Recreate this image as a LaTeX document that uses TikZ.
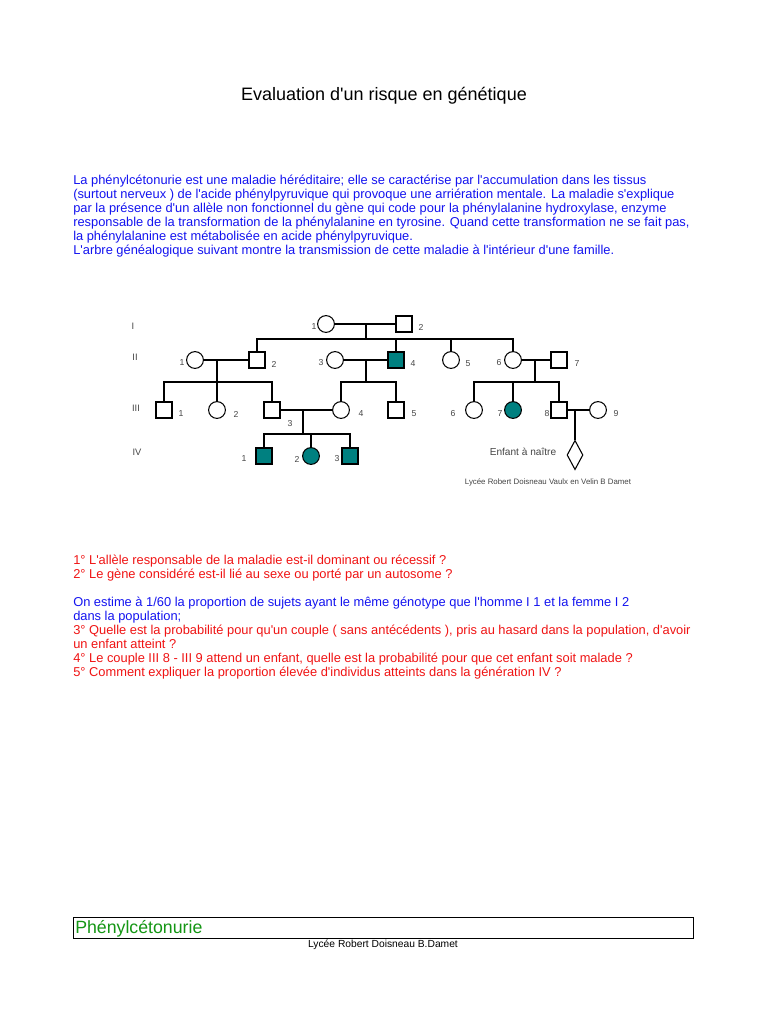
\documentclass[tikz,border=0pt]{standalone}
\usepackage{fontspec}
\setmainfont{Liberation Sans}[Ligatures=TeXOff]
\usetikzlibrary{shapes.geometric}
\definecolor{teal1}{RGB}{0,128,128}
\definecolor{txtblue}{RGB}{20,20,240}
\definecolor{txtred}{RGB}{240,20,20}
\definecolor{txtgreen}{RGB}{20,150,20}
\definecolor{lbl}{RGB}{70,70,70}
\begin{document}
\begin{tikzpicture}[x=0.75pt,y=-0.75pt,
  male/.style={draw=black,line width=0.8pt,fill=white,minimum size=12pt,inner sep=0pt,rectangle},
  female/.style={draw=black,line width=0.8pt,fill=white,minimum size=12.6pt,inner sep=0pt,circle},
  aff/.style={fill=teal1},
  unk/.style={draw=black,line width=0.8pt,fill=white,diamond,minimum width=12pt,minimum height=22pt,inner sep=0pt,aspect=0.5},
  num/.style={font=\fontsize{6.5}{7}\selectfont,text=lbl,inner sep=0pt},
  gen/.style={font=\fontsize{7}{7}\selectfont,text=lbl,inner sep=0pt},
  ln/.style={line width=0.8pt,draw=black},
  para/.style={anchor=base west,inner sep=0pt,font=\fontsize{9.65}{10}\selectfont},
]
\useasboundingbox (0,0) rectangle (768,1024);
\fill[white] (0,0) rectangle (768,1024);

\node[inner sep=0pt,font=\fontsize{13.5}{15}\selectfont] (title) at (384,96) {Evaluation d'un risque en génétique};

\node[para,text=txtblue] (p1) at (73,184) {La phénylcétonurie est une maladie héréditaire; elle se caractérise par l'accumulation dans les tissus};
\node[para,text=txtblue] (p2) at (73,198) {(surtout nerveux ) de l'acide phénylpyruvique qui provoque une arriération mentale. La maladie s'explique};
\node[para,text=txtblue] (p3) at (73,212) {par la présence d'un allèle non fonctionnel du gène qui code pour la phénylalanine hydroxylase, enzyme};
\node[para,text=txtblue] (p4) at (73,226) {responsable de la transformation de la phénylalanine en tyrosine. Quand cette transformation ne se fait pas,};
\node[para,text=txtblue] (p5) at (73,240) {la phénylalanine est métabolisée en acide phénylpyruvique.};
\node[para,text=txtblue] (p6) at (73,254) {L'arbre généalogique suivant montre la transmission de cette maladie à l'intérieur d'une famille.};

% generation labels
\node[gen] (gI) at (133,326) {I};
\node[gen] (gII) at (135,357) {II};
\node[gen] (gIII) at (136,408) {III};
\node[gen] (gIV) at (137,452) {IV};

% Gen I
\node[female] (I1) at (326,324) {};
\node[male] (I2) at (404,324) {};
\node[num] at (314,327) {1};
\node[num] at (421,327) {2};
% Gen II
\node[female] (II1) at (195,360) {};
\node[male] (II2) at (257,360) {};
\node[female] (II3) at (335,360) {};
\node[male,aff] (II4) at (396,360) {};
\node[female] (II5) at (451,360) {};
\node[female] (II6) at (513,360) {};
\node[male] (II7) at (559,360) {};
\node[num] at (182,363) {1};
\node[num] at (274,364) {2};
\node[num] at (321,363) {3};
\node[num] at (413,364) {4};
\node[num] at (468,364) {5};
\node[num] at (499,363) {6};
\node[num] at (577,364) {7};
% Gen III
\node[male] (III1) at (164,410) {};
\node[female] (III2) at (217,410) {};
\node[male] (III3) at (272,410) {};
\node[female] (III4) at (341,410) {};
\node[male] (III5) at (396,410) {};
\node[female] (III6) at (474,410) {};
\node[female,aff] (III7) at (513,410) {};
\node[male] (III8) at (559,410) {};
\node[female] (III9) at (598,410) {};
\node[num] at (181,414) {1};
\node[num] at (236,414) {2};
\node[num] at (290,424) {3};
\node[num] at (361,414) {4};
\node[num] at (414,414) {5};
\node[num] at (453,414) {6};
\node[num] at (500,414) {7};
\node[num] at (547,414) {8};
\node[num] at (616,414) {9};
% Gen IV
\node[male,aff] (IV1) at (264,456) {};
\node[female,aff] (IV2) at (311,456) {};
\node[male,aff] (IV3) at (350,456) {};
\node[num] at (244,459) {1};
\node[num] at (297,459) {2};
\node[num] at (337,459) {3};
\node[unk] (V) at (575,455) {};
\node[inner sep=0pt,font=\fontsize{7.6}{8}\selectfont,text=lbl] (enf) at (523,452) {Enfant à naître};
\node[inner sep=0pt,font=\fontsize{5.9}{6}\selectfont,text=lbl] (lyc1) at (548,482) {Lycée Robert Doisneau Vaulx en Velin B Damet};

% connectors
\coordinate (mI) at (366,324);
\coordinate (sI) at (366,339);
\draw[ln] (I1) -- (I2);
\draw[ln] (mI) -- (sI);
\draw[ln] (II2.north) |- (II6.north |- sI) -- (II6.north);
\draw[ln] (II4.north) -- (II4.north |- sI);
\draw[ln] (II5.north) -- (II5.north |- sI);

\coordinate (mII12) at (217,360);
\coordinate (sII12) at (217,382);
\draw[ln] (II1) -- (II2);
\draw[ln] (mII12) -- (III2.north);
\draw[ln] (III1.north) |- (III3.north |- sII12) -- (III3.north);

\coordinate (mII34) at (366,360);
\coordinate (sII34) at (366,382);
\draw[ln] (II3) -- (II4);
\draw[ln] (mII34) -- (sII34);
\draw[ln] (III4.north) |- (III5.north |- sII34) -- (III5.north);

\coordinate (mII67) at (535,360);
\coordinate (sII67) at (535,382);
\draw[ln] (II6) -- (II7);
\draw[ln] (mII67) -- (sII67);
\draw[ln] (III6.north) |- (III8.north |- sII67) -- (III8.north);
\draw[ln] (III7.north) -- (III7.north |- sII67);

\coordinate (mIII34) at (303,410);
\coordinate (sIII34) at (303,434);
\draw[ln] (III3) -- (III4);
\draw[ln] (mIII34) -- (sIII34);
\draw[ln] (IV1.north) |- (IV3.north |- sIII34) -- (IV3.north);
\draw[ln] (IV2.north) -- (IV2.north |- sIII34);

\coordinate (mIII89) at (575,410);
\draw[ln] (III8) -- (III9);
\draw[ln] (mIII89) -- (V.north);

% questions
\node[para,text=txtred] (q1) at (73,564) {1° L'allèle responsable de la maladie est-il dominant ou récessif ?};
\node[para,text=txtred] (q2) at (73,578) {2° Le gène considéré est-il lié au sexe ou porté par un autosome ?};
\node[para,text=txtblue] (q3a) at (73,606) {On estime à 1/60 la proportion de sujets ayant le même génotype que l'homme I 1 et la femme I 2};
\node[para,text=txtblue] (q3b) at (73,620) {dans la population;};
\node[para,text=txtred] (q3) at (73,634) {3° Quelle est la probabilité pour qu'un couple ( sans antécédents ), pris au hasard dans la population, d'avoir};
\node[para,text=txtred] (q3c) at (73,648) {un enfant atteint ?};
\node[para,text=txtred] (q4) at (73,662) {4° Le couple III 8 - III 9 attend un enfant, quelle est la probabilité pour que cet enfant soit malade ?};
\node[para,text=txtred] (q5) at (73,676) {5° Comment expliquer la proportion élevée d'individus atteints dans la génération IV ?};

% footer
\node[draw=black,line width=0.8pt,minimum width=465pt,minimum height=15.8pt,inner sep=0pt,anchor=north west] (box) at (73,917) {};
\node[anchor=base west,inner sep=0pt,text=txtgreen,font=\fontsize{13.3}{15}\selectfont] (ftitle) at (75,933.5) {Phénylcétonurie};
\node[anchor=base,inner sep=0pt,font=\fontsize{7.7}{8}\selectfont] (fsub) at (383,947) {Lycée Robert Doisneau B.Damet};
\end{tikzpicture}
\end{document}
